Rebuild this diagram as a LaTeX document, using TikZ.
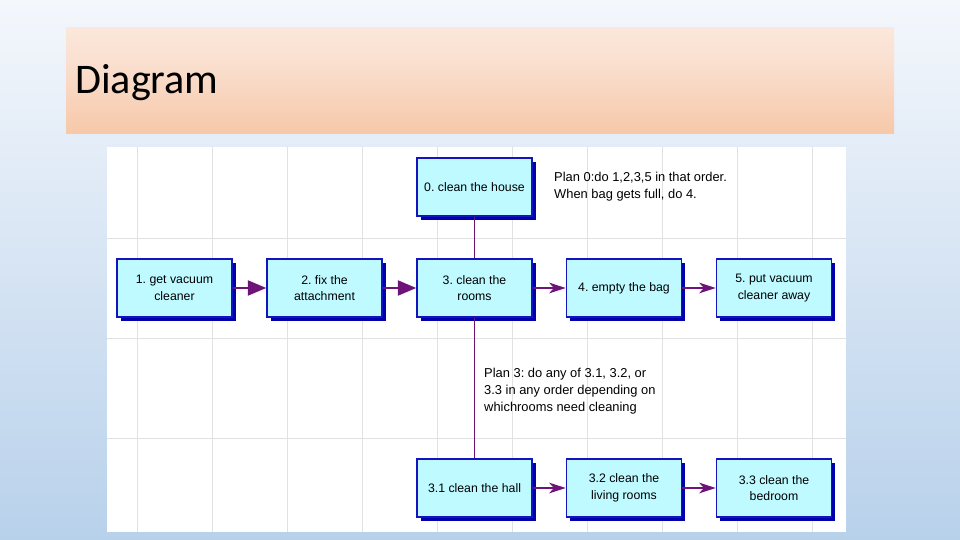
\documentclass[tikz,border=0pt]{standalone}
\usepackage{fontspec}
\setmainfont{Liberation Sans}
\newfontfamily\titlefont{Carlito}
\usepackage{tikz}
\usetikzlibrary{arrows.meta,shadows}
\frenchspacing

\definecolor{boxfill}{RGB}{190,250,255}
\definecolor{boxline}{RGB}{20,20,190}
\definecolor{boxshade}{RGB}{0,0,175}
\definecolor{linkcol}{RGB}{110,20,120}
\definecolor{gridcol}{RGB}{225,225,225}
\definecolor{bgtop}{RGB}{244,247,252}
\definecolor{bgbot}{RGB}{184,209,235}
\pgfdeclareverticalshading{titleshade}{100bp}{
  rgb(0bp)=(0.976,0.824,0.725); rgb(18bp)=(0.965,0.765,0.627);
  rgb(60bp)=(0.98,0.88,0.82); rgb(100bp)=(0.992,0.949,0.925)}

\tikzset{
  task/.style={draw=boxline,line width=1.3pt,fill=boxfill,
    minimum width=3.45cm,minimum height=1.74cm,align=center,
    inner sep=2pt,font=\fontsize{10.5}{14}\selectfont,
    drop shadow={fill=boxshade,opacity=1,shadow xshift=0.11cm,shadow yshift=-0.11cm}},
  plan/.style={align=left,anchor=north west,inner sep=0pt,
    font=\fontsize{11}{14.3}\selectfont},
  link/.style={linkcol,line width=1.6pt},
  bigarrow/.style={link,-{Triangle[length=0.55cm,width=0.45cm]}},
  smallarrow/.style={link,-{Stealth[length=0.5cm,width=0.32cm,inset=0.15cm]}}
}

\begin{document}
\begin{tikzpicture}[x=0.03cm,y=-0.03cm]
 \useasboundingbox (0,0) rectangle (960,540);
 \shade[top color=bgtop,bottom color=bgbot] (0,0) rectangle (960,540);
 % title bar
 \shade[shading=titleshade] (66,28) rectangle (894,134);
 \node[anchor=base west,inner sep=0pt,font=\titlefont\fontsize{36}{40}\selectfont]
  (title) at (75,94) {Diagram};
 % panel with grid
 \fill[white] (107,147) rectangle (846,532);
 \foreach \x in {137,212,...,812}
  \draw[gridcol,line width=0.6pt] (\x,147) -- (\x,532);
 \foreach \y in {238,338,438}
  \draw[gridcol,line width=0.6pt] (107,\y) -- (846,\y);
 % tasks
 \node[task] (t0) at (474.5,187) {0. clean the house};
 \node[task] (t1) at (174.5,288) {1. get vacuum\\cleaner};
 \node[task] (t2) at (324.5,288) {2. fix the\\attachment};
 \node[task] (t3) at (474.5,288) {3. clean the\\rooms};
 \node[task] (t4) at (624,288) {4. empty the bag};
 \node[task] (t5) at (774,288) {5. put vacuum\\cleaner away};
 \node[task] (t31) at (474.5,488) {3.1 clean the hall};
 \node[task] (t32) at (624,488) {3.2 clean the\\living rooms};
 \node[task] (t33) at (774,488) {3.3 clean the\\bedroom};
 % plans
 \node[plan] (plan0) at (554,172) {Plan 0:do 1,2,3,5 in that order.\\When bag gets full, do 4.};
 \node[plan] (plan3) at (484,368) {Plan 3: do any of 3.1, 3.2, or\\3.3 in any order depending on\\whichrooms need cleaning};
 % links
 \draw[link] (t0) -- (t3);
 \draw[link] (t3) -- (t31);
 \draw[bigarrow] (t1) -- (t2);
 \draw[bigarrow] (t2) -- (t3);
 \draw[smallarrow] (t3) -- (t4);
 \draw[smallarrow] (t4) -- (t5);
 \draw[smallarrow] (t31) -- (t32);
 \draw[smallarrow] (t32) -- (t33);
\end{tikzpicture}
\end{document}
